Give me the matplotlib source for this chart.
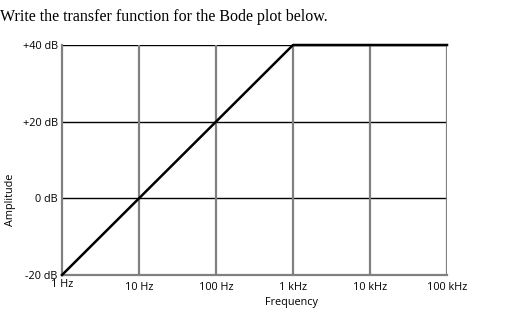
import numpy as np
import matplotlib.pyplot as plt
from matplotlib.transforms import ScaledTranslation

# Bode plot corner points
freq = [1, 1000, 100000]
gain_db = [-20, 40, 40]

xticks = [1, 10, 100, 1000, 10000, 100000]
xlabels = ['1 Hz', '10 Hz', '100 Hz', '1 kHz', '10 kHz', '100 kHz']
yticks = [-20, 0, 20, 40]
ylabels = ['-20 dB', '0 dB', '+20 dB', '+40 dB']

fig = plt.figure(figsize=(5.22, 3.16), dpi=100)
fig.text(0.0, 0.945, 'Write the transfer function for the Bode plot below.',
         family='Liberation Serif', fontsize=11.5, va='center', ha='left')

ax = fig.add_axes([62/522, 1-275/316, 385/522, 230/316])
ax.set_xscale('log')
ax.set_xlim(1, 100000)
ax.set_ylim(-20, 40)

for y in yticks[1:]:
    ax.axhline(y, color='black', lw=1, zorder=1)
for x in xticks[1:]:
    ax.axvline(x, color='#808080', lw=1.6, zorder=1)

ax.plot(freq, gain_db, color='black', lw=1.8, zorder=3, clip_on=False)

for s in ['top', 'right']:
    ax.spines[s].set_visible(False)
for s in ['left', 'bottom']:
    ax.spines[s].set_color('#808080')
    ax.spines[s].set_linewidth(1.6)

ax.minorticks_off()
ax.set_xticks(xticks)
ax.set_xticklabels(xlabels, family='Open Sans', fontsize=7.8)
ax.set_yticks(yticks)
ax.set_yticklabels(ylabels, family='Open Sans', fontsize=7.8)
ax.tick_params(length=0, pad=3)
ax.tick_params(axis='x', pad=5)
# first frequency label sits a bit higher, right under the corner
first = ax.get_xticklabels()[0]
first.set_transform(first.get_transform() + ScaledTranslation(0, 2.5/100, fig.dpi_scale_trans))
fig.text(291/522, 1-302/316, 'Frequency', family='Open Sans', fontsize=7.8,
         ha='center', va='center')
fig.text(11/522, 1-200/316, 'Amplitude', family='Open Sans', fontsize=7.8,
         rotation=90, ha='center', va='center')

fig.savefig('out.png', dpi=100)
